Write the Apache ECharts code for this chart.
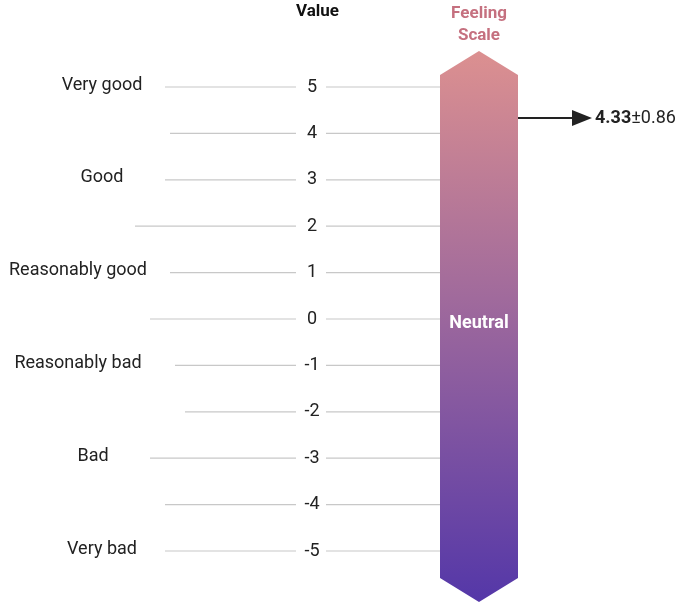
<!DOCTYPE html>
<html><head><meta charset="utf-8">
<script src="https://cdn.jsdelivr.net/npm/echarts@6/dist/echarts.min.js"></script>
<style>html,body{margin:0;padding:0;background:#fff}#c{width:685px;height:602px}</style>
</head><body><div id="c"></div>
<script>
const tickValues = [5,4,3,2,1,0,-1,-2,-3,-4,-5];
const feelingLabels = {"5":"Very good","3":"Good","1":"Reasonably good","-1":"Reasonably bad","-3":"Bad","-5":"Very bad"};
const meanValue = 4.33;
const sdValue = 0.86;
const scaleRange = [5,-5];

const chart = echarts.init(document.getElementById('c'));
const leftStart = {"5":165,"4":170,"3":165,"2":135,"1":170,"0":150,"-1":175,"-2":185,"-3":150,"-4":165,"-5":165};
const labelCenter = {"5":102,"3":102,"1":78,"-1":78,"-3":93,"-5":102};
chart.setOption({
  animation:false,
  grid:{left:0,right:0,top:87,bottom:51},
  xAxis:{type:'value',min:0,max:1,show:false},
  yAxis:{type:'value',min:-5,max:5,show:false},
  graphic:[
    {type:'text',left:296,top:3,style:{text:'Value',font:'bold 17px Roboto',fill:'#111'}},
    {type:'text',x:479,y:3,style:{text:'Feeling\nScale',font:'bold 17px Roboto',fill:'#c5707f',align:'center',lineHeight:22}}
  ],
  series:[
    {type:'custom',data:tickValues.map(v=>[0,v]),
     renderItem:(p,api)=>{
       const v=api.value(1); const y=api.coord([0,v])[1];
       const ch=[
         {type:'line',shape:{x1:leftStart[v],y1:y,x2:296,y2:y},style:{stroke:'#c8c8c8',lineWidth:1.2}},
         {type:'line',shape:{x1:326,y1:y,x2:440,y2:y},style:{stroke:'#c8c8c8',lineWidth:1.2}},
         {type:'text',style:{x:312,y:y,text:String(v),font:'18px Roboto',fill:'#222',align:'center',verticalAlign:'middle'}}
       ];
       if(feelingLabels[v]) ch.push({type:'text',style:{x:labelCenter[v],y:y-2,text:feelingLabels[v],font:'18px Roboto',fill:'#222',align:'center',verticalAlign:'middle'}});
       return {type:'group',children:ch};
     }},
    {type:'custom',data:[scaleRange],
     renderItem:(p,api)=>{
       const yt=api.coord([0,api.value(0)])[1], yb=api.coord([0,api.value(1)])[1];
       const x1=440,x2=518,xm=479,d=24;
       const top=yt-12, bot=yb+27;
       return {type:'group',children:[
         {type:'polygon',shape:{points:[[x1,top],[xm,top-d],[x2,top],[x2,bot],[xm,bot+d],[x1,bot]]},
          style:{fill:new echarts.graphic.LinearGradient(0,0,0,1,[{offset:0,color:'#dc9090'},{offset:0.45,color:'#a06a9c'},{offset:1,color:'#5437a8'}])}},
         {type:'text',style:{x:xm,y:api.coord([0,0])[1]+4,text:'Neutral',font:'bold 18px Roboto',fill:'#fff',align:'center',verticalAlign:'middle'}}
       ]};
     }},
    {type:'custom',data:[[meanValue,sdValue]],
     renderItem:(p,api)=>{
       const y=api.coord([0,api.value(0)])[1];
       return {type:'group',children:[
         {type:'line',shape:{x1:518,y1:y,x2:576,y2:y},style:{stroke:'#222',lineWidth:2}},
         {type:'polygon',shape:{points:[[572,y-8],[592,y],[572,y+8]]},style:{fill:'#222'}},
         {type:'text',style:{x:595,y:y,text:'{b|'+api.value(0).toFixed(2)+'}{n|±'+api.value(1).toFixed(2)+'}',verticalAlign:'middle',
           rich:{b:{font:'bold 18px Roboto',fill:'#222'},n:{font:'18px Roboto',fill:'#222'}}}}
       ]};
     }}
  ]
});
</script></body></html>
